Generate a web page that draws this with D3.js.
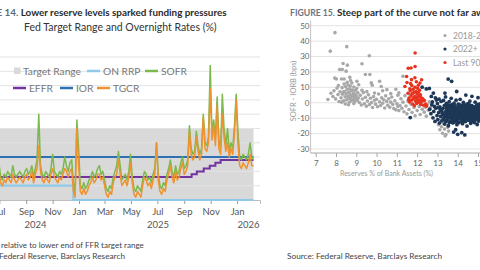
<!DOCTYPE html>
<html><head><meta charset="utf-8">
<script src="https://cdn.jsdelivr.net/npm/d3@7"></script>
<style>
html,body{margin:0;padding:0;background:#fff;overflow:hidden}
svg{display:block;font-family:Lato,"Open Sans",sans-serif}
</style></head><body>
<svg id="c" width="480" height="270"></svg>
<script>
// ---------- LEFT PANEL DATA (bp above lower end of FFR target range) ----------
const seriesStart = "2024-06-14";
const stepDays = 4;
const sofr = [
 8,9,10,15,13,8,7,9,8,10,
 9,8,12,9,8,9,10,9,8,10,
 11,9,10,12,8,11,14,30,12,9,
 8,10,9,8,11,16,10,9,8,10,
 9,11,15,12,10,13,14,6,3,28,
 18,5,4,6,4,5,7,8,10,8,
 9,11,12,9,10,7,4,3,5,4,
 8,10,12,17,12,7,8,9,7,10,
 16,8,4,3,5,4,3,7,10,9,
 7,8,6,9,11,20,9,5,4,6,
 5,9,11,14,10,8,12,9,10,13,
 15,11,12,14,26,18,16,17,24,19,
 16,18,30,20,19,22,47,24,28,22,
 36,21,18,37,25,19,25,17,20,18,
 26,37,24,15,14,16,15,14,16,20,
 15,14];
const tgcr = [
 6,7,8,12,10,6,5,7,6,8,
 7,6,9,7,6,7,8,7,6,8,
 9,7,8,10,6,9,11,19,10,7,
 6,8,7,6,9,11,8,7,6,8,
 7,9,11,10,8,10,11,3,1,25,
 12,3,2,4,2,3,5,6,8,6,
 7,9,9,7,8,5,2,1,3,2,
 6,8,9,14,9,5,6,7,5,8,
 13,6,2,1,3,2,1,5,8,7,
 5,6,4,7,9,20,7,3,2,4,
 3,7,9,12,8,6,10,7,8,11,
 13,9,10,12,24,16,14,15,22,17,
 14,16,29,18,17,20,39,21,26,19,
 33,18,16,30,22,17,20,15,18,16,
 23,35,20,12,11,13,12,11,13,16,
 12,12];
const effrDates = ["2024-06-14","2025-09-18","2025-09-30","2025-10-16","2025-10-30","2025-11-12","2025-11-24","2026-02-08"];
const effrVals  = [8,9,10,11,12,13,14,14];
const onrrpDates = ["2024-06-14","2024-12-19","2026-02-08"];
const onrrpVals  = [5,0,0];
const iorDates = ["2024-06-14","2026-02-08"];
const iorVals  = [15,15];
const rangeDates = ["2024-06-14","2026-02-08"];
const rangeLow  = [0,0];
const rangeHigh = [25,25];
const leftYTicks = [0,5,10,15,20,25,30,35,40,45,50];
const monthTicks = ["2024-07-01","2024-09-01","2024-11-01","2025-01-01","2025-03-01","2025-05-01","2025-07-01","2025-09-01","2025-11-01","2026-01-01"];
const monthLabels = ["Jul","Sep","Nov","Jan","Mar","May","Jul","Sep","Nov","Jan"];
const yearLabels = ["2024","2025","2026"];

// ---------- RIGHT PANEL DATA (reserves % of bank assets, SOFR-IORB bp) ----------
const grayPts = [
[7.72,33.5],[7.95,45.5],[8.53,36.4],[8.35,25.5],[8.56,24.4],[9.64,30.5],[9.28,25.3],[8.18,21.6],[8.31,21.6],[8.5,20.5],[9.45,18.3],[9.67,18.3],[7.94,16],[8.02,15.4],[8.27,15.4],[8.4,15.4],[8.68,16.5],[8.72,14.4],[9.03,13.9],[9.74,12.9],[9.79,11.4],[10.15,13.9],[10.51,8.5],[10.23,10.6],[11.3,17.2],
[7.6,2.1],[7.75,6.2],[7.85,4.1],[7.9,7.8],[7.98,2.5],[8.05,9.5],[8.1,5.3],[8.12,11.2],[8.15,0.8],[8.2,7.1],
[8.25,3.2],[8.3,9.8],[8.32,5.5],[8.38,1.2],[8.4,12.1],[8.42,7.3],[8.45,3.9],[8.48,10.4],[8.5,5.8],[8.52,1.9],[8.55,8.6],[8.58,4.2],[8.6,11.5],[8.62,6.7],[8.64,2.8],[8.66,0.3],[8.68,9.1],[8.7,5.1],[8.72,3.3],[8.74,7.6],[8.76,1.4],[8.78,12.8],[8.8,4.6],[8.82,8.2],[8.84,2.2],[8.86,6.1],[8.88,10.2],[8.9,3.7],[8.92,0.9],[8.94,5.4],[8.96,7.9],[8.98,2.6],[9.0,4.4],[9.02,9.3],[9.05,1.6],[9.08,6.4],[9.1,3.1],[8.46,-0.8],[8.62,-1.3],[8.36,6.9],[8.7,10.9],[8.55,13.2],[8.88,-0.5],[9.12,11.7],[8.28,0.4],
[9.15,0.2],[9.2,4.8],[9.25,-1.5],[9.3,2.4],[9.35,6.6],[9.4,-0.6],[9.45,3.5],[9.5,-2.3],[9.55,1.1],[9.6,5.2],[9.65,-1.2],[9.7,2.9],[9.75,0.1],[9.8,-3.1],[9.85,4.1],[9.9,1.6],[9.95,-0.9],[10.0,2.3],[10.05,-2.6],[10.1,5.7],[10.15,0.6],[10.2,-1.8],[10.25,3.2],[10.3,-0.3],[10.35,1.9],[10.4,-3.4],[10.45,4.5],[10.5,0.9],[10.55,-1.6],[10.6,2.6],[10.65,-2.9],[10.7,0.4],[10.75,3.7],[10.8,-1.1],[10.85,-3.8],[10.9,1.3],[10.95,-4.6],[11.0,-0.7],[11.05,-2.4],[11.1,-5.1],[9.28,8.1],[9.52,7.2],[9.9,6.3],[10.3,7.8],[10.7,5.9],
[11.15,-1.8],[11.2,2.6],[11.25,-3.6],[11.3,0.4],[11.35,-5.8],[11.4,4.6],[11.45,-2.1],[11.5,-7.2],[11.55,1.1],[11.6,-4.4],[11.65,5.3],[11.7,-0.9],[11.75,-6.3],[11.8,2.2],[11.85,-3.1],[11.9,-8.4],[11.95,0.3],[12.0,-5.1],[12.05,3.6],[12.1,-2.5],[12.15,-7.6],[12.2,-0.4],[12.25,-4.2],[12.3,1.7],[12.35,-6.1],[12.4,-2.9],[12.45,-8.7],[12.5,-1.1],[12.55,-4.9],[12.6,0.6],[12.65,-3.3],[11.1,6.4],[10.95,8.8],[11.05,4.9],
[13.05,-14.2],[13.12,-17.5],[13.2,-15.6],[13.25,-19.8],[13.3,-13.4],[13.35,-17.1],[13.42,-20.6],[13.5,-15.9],[13.55,-18.4],[13.15,-12.6],[13.38,-21.5]];
const navyPts = [
[12.25,10.1],[12.45,9],[12.6,9.3],[12.8,6.3],[13.53,15.4],[13.7,13.9],[11.66,-9.6],[13.37,6.3],[13.95,7.3],[14.4,5],[14.7,4.2],[15.0,3.3],[13.8,-19],[14.0,-20.5],[14.2,-19.4],[14.35,-20.9],[13.9,-17.5],[12.7,4.1],[12.9,3.2],[12.75,0.5],[12.85,-2.4],[12.95,1.8],
[12.62,-4.2],[12.68,-7.1],[12.72,-1.3],[12.78,-9.8],[12.82,-5.6],[12.88,-12.1],[12.92,-3.5],[12.98,-8.3],[13.0,-0.6],[13.02,-10.9],[13.06,-6.4],[13.08,2.4],[13.1,-13.2],[13.12,-2.7],[13.16,-8.9],[13.18,0.9],[13.2,-5.3],[13.22,-11.6],[13.26,-3.8],[13.28,-7.7],[13.3,1.5],[13.32,-9.9],[13.34,-1.9],[13.36,-13.8],[13.38,-5.9],[13.4,3.8],[13.42,-8.1],[13.44,-0.4],[13.46,-11.3],[13.48,-4.6],[13.5,-7.2],[13.52,-2.1],[13.54,-14.9],[13.56,-9.4],[13.58,0.8],[13.6,-5.5],[13.62,-12.4],[13.64,-3.2],[13.66,-7.9],[13.68,2.9],[13.7,-10.6],[13.72,-1.2],[13.74,-6.3],[13.76,-13.1],[13.78,-4.1],[13.8,-8.7],[13.82,-0.2],[13.84,-11.8],[13.86,-5.1],[13.88,-2.6],[13.9,-9.2],[13.92,1.7],[13.94,-7.4],[13.96,-14.2],[13.98,-3.7],[14.0,-10.1],[14.02,-0.9],[14.04,-6.1],[14.06,-12.9],[14.08,-4.4],[14.1,-8.3],[14.12,2.2],[14.14,-1.8],[14.16,-11.1],[14.18,-5.8],[14.2,-9.6],[14.22,-3.1],[14.24,-13.6],[14.26,-7.2],[14.28,0.3],[14.3,-10.4],[14.32,-4.9],[14.34,-8.1],[14.36,-1.4],[14.38,-12.2],[14.4,-6.6],[14.42,-2.9],[14.44,-9.1],[14.46,-15.1],[14.48,-5.3],[14.5,-0.6],[14.52,-11.4],[14.54,-7.9],[14.56,-3.6],[14.58,-10.2],[14.6,1.1],[14.62,-6.2],[14.64,-13.3],[14.66,-4.1],[14.68,-8.6],[14.7,-1.9],[14.72,-11.9],[14.74,-5.7],[14.76,-9.3],[14.78,-2.7],[14.8,-7.1],[14.82,-12.8],[14.84,-4.6],[14.86,0.4],[14.88,-10.7],[14.9,-6.4],[14.92,-3.3],[14.94,-8.9],[14.96,-14.1],[14.98,-5.2],[15.0,-1.1],[15.02,-9.7],[15.04,-7.3],[15.06,-3.9],[15.08,-11.5],[15.1,-6.1],[15.12,-0.7],[15.15,-8.4],[15.18,-4.5],[15.2,-12.3],
[13.45,-6.8],[13.55,-4.1],[13.65,-9.7],[13.75,-2.9],[13.85,-7.3],[13.95,-5.1],[14.05,-8.8],[14.15,-3.9],[14.25,-10.9],[14.35,-6.2],[14.45,-4.3],[14.55,-9.3],[14.65,-2.4],[14.75,-7.6],[14.85,-5.9],[14.95,-10.4],[15.05,-4.8],[15.15,-2.2],[13.5,-10.3],[13.6,-1.6],[13.7,-8.4],[13.8,-5.9],[13.9,-11.4],[14.0,-3.4],[14.1,-6.9],[14.2,-12.1],[14.3,-2.2],[14.4,-9.8],[14.5,-4.8],[14.6,-8.1],[14.7,-11.2],[14.8,-3.9],[14.9,-6.8],[15.0,-9.1],[15.1,-2.8],[13.48,-1.1],[13.58,-12.8],[13.68,-5.4],[13.78,-10.2],[13.88,-3.3],[13.98,-8.6],[14.08,-1.2],[14.18,-7.1],[14.28,-4.2],[14.38,-9.2],[14.48,-2.6],[14.58,-6.1],[14.68,-10.8],[14.78,-5.1],[14.88,-8.2],[14.98,-3.1],[15.08,-7.6],[15.18,-10.1],[13.62,-8.9],[13.72,-4.6],[13.82,-12.6],[13.92,-6.3],[14.02,-4.8],[14.12,-9.9],[14.22,-6.4],[14.32,-11.9],[14.42,-7.4],[14.52,-3.4],[14.62,-9.8],[14.72,-6.9],[14.82,-9.4],[14.92,-1.8],[15.02,-5.6],[15.12,-9.6],
[13.43,-3.5],[13.47,-9.1],[13.53,-5.9],[13.57,-7.8],[13.63,-1.9],[13.67,-11.4],[13.73,-8.9],[13.77,-6.7],[13.83,-2.1],[13.87,-9.8],[13.93,-4.3],[13.97,-11.9],[14.03,-7.6],[14.07,-2.7],[14.13,-5.2],[14.17,-9.1],[14.23,-1.5],[14.27,-8.7],[14.33,-3.7],[14.37,-10.3],[14.43,-5.6],[14.47,-8.2],[14.53,-6.9],[14.57,-1.3],[14.63,-11.6],[14.67,-6.3],[14.73,-3.1],[14.77,-10.9],[14.83,-7.9],[14.87,-2.9],[14.93,-5.4],[14.97,-8.1],[15.03,-2.4],[15.07,-10.6],[15.13,-5.1],[15.17,-7.9],[13.41,-12.1],[13.51,-2.8],[13.61,-6.6],[13.71,-12.3],[13.81,-1.1],[13.91,-8.2],[14.01,-12.4],[14.11,-4.7],[14.21,-8.6],[14.31,-6.9],[14.41,-1.9],[14.51,-9.8],[14.61,-4.9],[14.71,-9.1],[14.81,-11.6],[14.91,-7.2],[15.01,-11.9],[15.11,-4.2],[15.19,-6.6],[13.39,-8.6],[13.29,-10.8],[13.24,-6.8],[13.14,-4.6],[13.04,-3.1]];
const redPts = [
[11.9,32.3],[11.56,22.4],[11.7,22.6],[11.9,23.5],[11.48,17],[11.72,15],[11.89,16.2],[12.14,12.8],[12.22,14.9],[11.4,10.6],[11.64,9.1],[11.55,6.2],[11.6,3.1],[11.62,0.5],[11.66,7.8],[11.7,4.4],[11.72,1.6],[11.74,11.2],[11.76,5.9],[11.78,-0.8],[11.8,8.7],[11.82,2.9],[11.84,6.6],[11.86,-1.9],[11.88,4.1],[11.9,10.1],[11.92,1.2],[11.94,7.2],[11.96,3.4],[11.98,-0.4],[12.0,5.6],[12.02,9.4],[12.04,2.1],[12.06,6.8],[12.08,0.3],[12.1,4.2],[12.12,8.1],[12.14,1.5],[12.16,5.1],[12.18,-1.1],[12.2,3.2],[12.24,0.8],[12.28,2.6],[12.32,-1.6],[12.36,1.4],[12.42,-0.9],[12.46,-2.2],[11.5,13.1],[11.96,13.6],[12.06,11.4],[11.68,12.4],[11.58,1.9]];
const rightYTicks = [-30,-20,-10,0,10,20,30,40,50];
const rightXTicks = [7,8,9,10,11,12,13,14,15];
const scatterLegend = ["2018-2021","2022+","Last 90 days"];

// ---------- DRAW ----------
const svg = d3.select("#c");
const P = d3.utcParse("%Y-%m-%d");
const C = {range:"#d9d9d9", grid:"#e3e3e3", onrrp:"#8ec9ea", sofr:"#7cb94d", effr:"#7232a0", ior:"#2f6fb3", tgcr:"#f0922e",
           gray:"#a8a8a8", navy:"#1d3757", red:"#e8321e", text:"#555"};
function fit(sel, w){ const L = sel.node().getComputedTextLength(); sel.attr("font-size", (+sel.attr("font-size"))*w/L); return sel; }

const x = d3.scaleUtc().domain([P("2024-06-14"), P("2026-02-23")]).range([-8, 260]);
const y = d3.scaleLinear().domain([0,50]).range([200,57]);
const start = P(seriesStart);
const dAt = i => d3.utcDay.offset(start, i*stepDays);
const sofrD = sofr.map((v,i)=>({d:dAt(i),v}));
const tgcrD = tgcr.map((v,i)=>({d:dAt(i),v}));
const toD = (ds,vs)=>ds.map((d,i)=>({d:P(d),v:vs[i]}));

const L = svg.append("g");
L.append("path").datum(rangeDates.map((d,i)=>({d:P(d),lo:rangeLow[i],hi:rangeHigh[i]})))
  .attr("fill",C.range)
  .attr("d", d3.area().x(d=>x(d.d)).y0(d=>y(d.lo)).y1(d=>y(d.hi)));
L.append("g").selectAll("line").data(leftYTicks.filter(t=>t>0)).join("line")
  .attr("x1",x.range()[0]).attr("x2",x.range()[1]).attr("y1",d=>y(d)).attr("y2",d=>y(d))
  .attr("stroke",C.grid).attr("stroke-width",1);
const xAxis = d3.axisBottom(x).tickValues(monthTicks.map(P)).tickSize(4).tickFormat((d,i)=>monthLabels[i]);
const gx = L.append("g").attr("transform",`translate(0,${y(0)})`).call(xAxis);
gx.select(".domain").attr("stroke","#bdbdbd");
gx.selectAll(".tick line").attr("stroke","#9a9a9a");
gx.selectAll(".tick text").attr("fill",C.text).attr("font-size",9.5).attr("font-family","Lato").attr("dy","0.8em");
const yb = [x.range()[0], x(P("2025-01-01")), x(P("2026-01-01")), x.range()[1]];
L.append("g").selectAll("text").data(yearLabels).join("text")
  .attr("x",(d,i)=>(yb[i]+yb[i+1])/2).attr("y",227.5).attr("text-anchor","middle")
  .attr("font-size",9.5).attr("fill",C.text).text(d=>d);

const line = d3.line().x(d=>x(d.d)).y(d=>y(d.v));
const stepLine = d3.line().x(d=>x(d.d)).y(d=>y(d.v)).curve(d3.curveStepAfter);
L.append("path").datum(toD(onrrpDates,onrrpVals)).attr("d",stepLine).attr("fill","none").attr("stroke",C.onrrp).attr("stroke-width",2.2);
L.append("path").datum(toD(iorDates,iorVals)).attr("d",line).attr("fill","none").attr("stroke",C.ior).attr("stroke-width",2);
L.append("path").datum(toD(effrDates,effrVals)).attr("d",stepLine).attr("fill","none").attr("stroke",C.effr).attr("stroke-width",2);
L.append("path").datum(sofrD).attr("d",line).attr("fill","none").attr("stroke",C.sofr).attr("stroke-width",1.5).attr("stroke-linejoin","round");
L.append("path").datum(tgcrD).attr("d",line).attr("fill","none").attr("stroke",C.tgcr).attr("stroke-width",1.5).attr("stroke-linejoin","round");

const legRows = [
  [{t:"Target Range",c:C.range,sq:true,x:14,w:58},{t:"ON RRP",c:C.onrrp,x:87,w:35},{t:"SOFR",c:C.sofr,x:145,w:25}],
  [{t:"EFFR",c:C.effr,x:13,w:22},{t:"IOR",c:C.ior,x:60,w:14},{t:"TGCR",c:C.tgcr,x:97,w:24}]];
let legFs = null;
legRows.forEach((row,ri)=>{
  const yy = ri===0?71:88;
  row.forEach(it=>{
    if(it.sq) L.append("rect").attr("x",it.x).attr("y",yy-3.5).attr("width",6.5).attr("height",6.5).attr("fill",it.c);
    else L.append("line").attr("x1",it.x).attr("x2",it.x+13).attr("y1",yy).attr("y2",yy).attr("stroke",it.c).attr("stroke-width",2.5);
    const t = L.append("text").attr("x",it.x+(it.sq?9:16)).attr("y",yy+3.6).attr("font-size",10).attr("fill","#777").text(it.t);
    if(legFs===null){ fit(t,it.w); legFs = +t.attr("font-size"); } else t.attr("font-size",legFs);
  });
});

const t1 = fit(svg.append("text").attr("x",20.7).attr("y",16).attr("font-size",10.5).attr("font-weight",700).attr("fill","#2b2b2b").text("Lower reserve levels sparked funding pressures"),206);
const titleFs = +t1.attr("font-size");
svg.append("text").attr("x",18.3).attr("y",16).attr("text-anchor","end").attr("font-size",titleFs).attr("font-weight",700).attr("fill","#5f6b78").text("FIGURE 14.");
fit(svg.append("text").attr("x",24).attr("y",30.5).attr("font-size",10.5).attr("fill","#333").text("Fed Target Range and Overnight Rates (%)"),193);
fit(svg.append("text").attr("x",1).attr("y",247.5).attr("font-size",9).attr("fill","#444").text("relative to lower end of FFR target range"),143);
const src = fit(svg.append("text").attr("x",287).attr("y",258.5).attr("font-size",9).attr("fill","#444").text("Source: Federal Reserve, Barclays Research"),155);
svg.append("text").attr("x",125).attr("y",258.5).attr("text-anchor","end").attr("font-size",src.attr("font-size")).attr("fill","#444").text("Source: Federal Reserve, Barclays Research");

const R = svg.append("g");
const xs = d3.scaleLinear().domain([7,15]).range([315.7,478]);
const ys = d3.scaleLinear().domain([-30,50]).range([149,25.7]);
const xLeft = xs(6.75), yBot = ys(-32.6), yTop = ys(53.5);
R.append("g").selectAll("line").data(rightYTicks).join("line")
  .attr("x1",xLeft).attr("x2",480).attr("y1",d=>ys(d)).attr("y2",d=>ys(d)).attr("stroke",C.grid);
R.append("line").attr("x1",xLeft).attr("x2",xLeft).attr("y1",yTop).attr("y2",yBot).attr("stroke","#c4c4c4");
const gxr = R.append("g").attr("transform",`translate(0,${yBot})`)
  .call(d3.axisBottom(xs).tickValues(rightXTicks).tickSize(4).tickSizeOuter(0).tickFormat(d3.format("d")));
gxr.select(".domain").attr("stroke","#a8a8a8").attr("d",`M${xLeft},0H480`);
gxr.selectAll(".tick line").attr("stroke","#a8a8a8");
gxr.selectAll(".tick text").attr("fill","#666").attr("font-size",8).attr("font-family","Lato").attr("dy","0.71em");
R.append("g").selectAll("text").data(rightYTicks).join("text")
  .attr("x",309.5).attr("y",d=>ys(d)).attr("dy","0.35em").attr("text-anchor","end")
  .attr("font-size",8).attr("fill","#666").text(d=>d);
R.append("text").attr("transform",`translate(295.5,${91}) rotate(-90)`).attr("text-anchor","middle")
  .attr("font-size",7.5).attr("fill","#999").text("SOFR - IORB (bps)");
fit(R.append("text").attr("x",340).attr("y",176).attr("font-size",8.5).attr("fill","#9a9a9a").text("Reserves % of Bank Assets (%)"),93);

const dots = (pts,col,r)=>R.append("g").selectAll("circle").data(pts).join("circle")
  .attr("cx",d=>xs(d[0])).attr("cy",d=>ys(d[1])).attr("r",r).attr("fill",col);
dots(grayPts,C.gray,1.8); dots(navyPts,C.navy,1.9); dots(redPts,C.red,1.8);

[C.gray,C.navy,C.red].forEach((c,i)=>{
  const yy = 35.5+i*13.5;
  R.append("circle").attr("cx",445).attr("cy",yy).attr("r",1.6).attr("fill",c);
  R.append("text").attr("x",453).attr("y",yy+3).attr("font-size",8.5).attr("fill","#999").text(scatterLegend[i]);
});
fit(svg.append("text").attr("x",290).attr("y",16).attr("font-size",10).attr("font-weight",700).attr("fill","#6b7480").text("FIGURE 15."),45);
svg.append("text").attr("x",337).attr("y",16).attr("font-size",titleFs).attr("font-weight",700).attr("fill","#2b2b2b").text("Steep part of the curve not far away");
</script>
</body></html>
